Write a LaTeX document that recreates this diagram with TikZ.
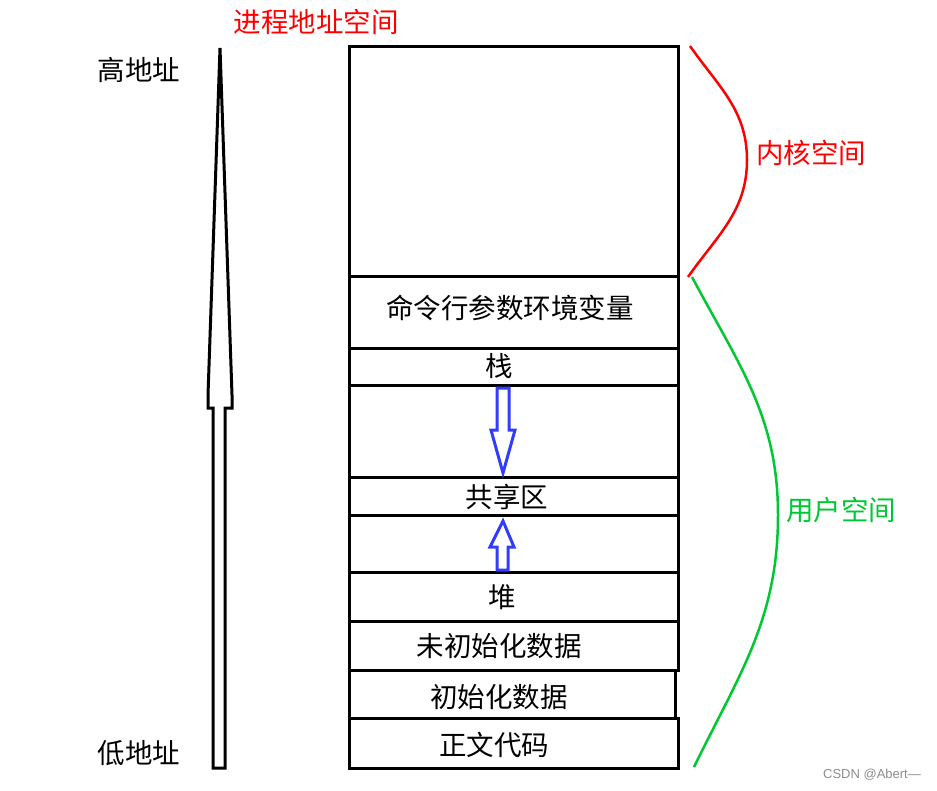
\documentclass[tikz,border=0pt]{standalone}
\usepackage{fontspec}
\newfontfamily\cjk{Noto Sans CJK SC}
\newfontfamily\wm{Liberation Sans}
\definecolor{myred}{RGB}{255,0,0}
\definecolor{mygreen}{RGB}{0,200,50}
\definecolor{myblue}{RGB}{50,60,255}
\begin{document}
\begin{tikzpicture}[x=1pt,y=-1pt,
  txt/.style={font=\cjk\fontsize{27.5}{32}\selectfont, inner sep=0pt},
  box/.style={draw=black, line width=3pt, inner sep=0pt, outer sep=0pt, minimum width=329pt},
  barrow/.style={draw=myblue, line width=3pt, line join=miter},
  curve/.style={line width=2.5pt}]
\useasboundingbox (0,0) rectangle (937,790);
% boxes
\node[box, minimum height=230pt] (kernel) at (513.5,161) {};
\node[box, minimum height=72pt] (cmd) at (513.5,312) {};
\node[box, minimum height=37pt] (stack) at (513.5,366.5) {};
\node[box, minimum height=92pt] (gapA) at (513.5,431) {};
\node[box, minimum height=38pt] (shared) at (513.5,496) {};
\node[box, minimum height=57pt] (gapB) at (513.5,543.5) {};
\node[box, minimum height=49pt] (heap) at (513.5,596.5) {};
\node[box, minimum height=49pt] (bss) at (513.5,645.5) {};
\node[box, minimum height=48pt, minimum width=326pt] (data) at (512,694) {};
\node[box, minimum height=50pt] (code) at (513.5,743) {};
% box texts
\node[txt] (tcmd) at (510,308) {命令行参数环境变量};
\node[txt] (tstack) at (499,366) {栈};
\node[txt] (tshared) at (507,497) {共享区};
\node[txt] (theap) at (502,597) {堆};
\node[txt] (tbss) at (499,646) {未初始化数据};
\node[txt] (tdata) at (499,697) {初始化数据};
\node[txt] (tcode) at (494,745) {正文代码};
% blue arrows
\draw[barrow] (497,388) -- (509,388) -- (509,430) -- (515,430) -- (503,473) -- (491,430) -- (497,430) -- cycle;
\draw[barrow] (503,521) -- (514,547) -- (508,547) -- (508,570) -- (497,570) -- (497,547) -- (490,547) -- cycle;
% left address arrow
\draw[line width=3pt, line join=miter] (220,48) -- (208,395) -- (208,408) -- (213,408) -- (213,768) -- (225,768) -- (225,408) -- (232,408) -- (232,395) -- cycle;
\node[txt] (high) at (139,70) {高地址};
\node[txt] (low) at (139,753) {低地址};
% title
\node[txt, text=myred] (title) at (316,22) {进程地址空间};
% curves
\coordinate (r1) at (690,46);
\coordinate (r2) at (747,160);
\coordinate (r3) at (688,277);
\draw[curve, myred] (r1) to[out=-55,in=90] (r2) to[out=-90,in=55] (r3);
\coordinate (g1) at (692,277);
\coordinate (g2) at (778,515);
\coordinate (g3) at (694,767);
\draw[curve, mygreen] (g1) to[out=-62,in=90] (g2) to[out=-90,in=64] (g3);
\node[txt, text=myred] (kspace) at (811,153) {内核空间};
\node[txt, text=mygreen] (uspace) at (841,510) {用户空间};
% watermark
\node[font=\wm\fontsize{13}{15}\selectfont, text=black!45, inner sep=0pt] (wmk) at (872,775) {CSDN @Abert—};
\end{tikzpicture}
\end{document}
